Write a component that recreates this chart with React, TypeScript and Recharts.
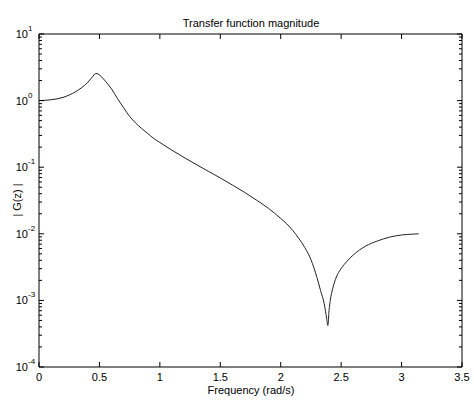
import { LineChart, Line, XAxis, YAxis } from "recharts";

const freq = [
  0, 0.1, 0.2, 0.3, 0.35, 0.4, 0.44, 0.47, 0.49, 0.52, 0.55, 0.6, 0.65, 0.7, 0.75, 0.8, 0.85, 0.9,
  0.95, 1.0, 1.1, 1.2, 1.3, 1.4, 1.5, 1.6, 1.7, 1.8, 1.9, 2.0, 2.05, 2.1, 2.15, 2.2, 2.25, 2.3,
  2.33, 2.36, 2.38, 2.39, 2.4, 2.41, 2.43, 2.46, 2.5, 2.55, 2.6, 2.7, 2.8, 2.9, 3.0, 3.1, 3.1416,
];
const magnitude = [
  1.0, 1.03, 1.12, 1.35, 1.55, 1.85, 2.25, 2.55, 2.5, 2.25, 1.95, 1.5, 1.07, 0.78, 0.58, 0.46, 0.38,
  0.32, 0.27, 0.235, 0.18, 0.14, 0.11, 0.087, 0.069, 0.054, 0.042, 0.032, 0.024, 0.017, 0.0141,
  0.0112, 0.0085, 0.0062, 0.0041, 0.0022, 0.0014, 0.00089, 0.00054, 0.00042, 0.00071, 0.001,
  0.0015, 0.00224, 0.003, 0.0039, 0.0048, 0.0065, 0.0078, 0.0089, 0.0096, 0.0099, 0.01,
];
const xTicks = [0, 0.5, 1, 1.5, 2, 2.5, 3, 3.5];
const decades = [-4, -3, -2, -1, 0, 1];

const data = freq.map((f, i) => ({ f, g: magnitude[i] }));

// major decade ticks plus 2..9 minor ticks in each decade
const yTicks: number[] = [];
decades.forEach((e) => {
  yTicks.push(Math.pow(10, e));
  if (e < 1) for (let k = 2; k <= 9; k++) yTicks.push(k * Math.pow(10, e));
});

const FONT = "'Liberation Sans', Arial, Helvetica, sans-serif";
const isMajor = (v: number) => Math.abs(Math.log10(v) - Math.round(Math.log10(v))) < 1e-9;

const LeftTick = ({ x, y, payload }: any) => {
  const v = payload.value;
  const major = isMajor(v);
  return (
    <g>
      <line x1={x} x2={x + (major ? 5 : 3)} y1={y} y2={y} stroke="#000" />
      {major && (
        <>
          <text x={x - 11} y={y + 4} textAnchor="end" fontSize={11} fontFamily={FONT} fill="#000">
            10
          </text>
          <text x={x - 11} y={y - 3} textAnchor="start" fontSize={8} fontFamily={FONT} fill="#000">
            {Math.round(Math.log10(v))}
          </text>
        </>
      )}
    </g>
  );
};

const RightTick = ({ x, y, payload }: any) => {
  const major = isMajor(payload.value);
  return <line x1={x} x2={x - (major ? 5 : 3)} y1={y} y2={y} stroke="#000" />;
};

const BottomTick = ({ x, y, payload }: any) => (
  <g>
    <line x1={x} x2={x} y1={y} y2={y - 5} stroke="#000" />
    <text x={x} y={y + 14} textAnchor="middle" fontSize={11} fontFamily={FONT} fill="#000">
      {payload.value}
    </text>
  </g>
);

const TopTick = ({ x, y }: any) => <line x1={x} x2={x} y1={y} y2={y + 5} stroke="#000" />;

const textStyle = {
  position: "absolute" as const,
  fontFamily: FONT,
  fontSize: 11,
  lineHeight: 1,
  color: "#000",
  whiteSpace: "nowrap" as const,
};

export default function App() {
  return (
    <div style={{ position: "absolute", left: 0, top: 0, width: 474, height: 413, background: "#fff" }}>
      <LineChart width={474} height={413} data={data} margin={{ top: 0, right: 0, bottom: 0, left: 0 }}>
        <XAxis
          xAxisId="b"
          dataKey="f"
          type="number"
          domain={[0, 3.5]}
          ticks={xTicks}
          interval={0}
          height={46}
          tickSize={0}
          tickMargin={0}
          tickLine={false}
          tick={<BottomTick />}
          axisLine={{ stroke: "#000" }}
        />
        <XAxis
          xAxisId="t"
          orientation="top"
          dataKey="f"
          type="number"
          domain={[0, 3.5]}
          ticks={xTicks}
          interval={0}
          height={34}
          tickSize={0}
          tickMargin={0}
          tickLine={false}
          tick={<TopTick />}
          axisLine={{ stroke: "#000" }}
        />
        <YAxis
          yAxisId="l"
          scale="log"
          type="number"
          domain={[1e-4, 10]}
          allowDataOverflow
          ticks={yTicks}
          interval={0}
          width={39}
          tickSize={0}
          tickMargin={0}
          tickLine={false}
          tick={<LeftTick />}
          axisLine={{ stroke: "#000" }}
        />
        <YAxis
          yAxisId="r"
          orientation="right"
          scale="log"
          type="number"
          domain={[1e-4, 10]}
          allowDataOverflow
          ticks={yTicks}
          interval={0}
          width={12}
          tickSize={0}
          tickMargin={0}
          tickLine={false}
          tick={<RightTick />}
          axisLine={{ stroke: "#000" }}
        />
        <Line
          xAxisId="b"
          yAxisId="l"
          dataKey="g"
          type="monotone"
          stroke="#222"
          strokeWidth={1}
          dot={false}
          isAnimationActive={false}
        />
      </LineChart>
      <div style={{ ...textStyle, left: 251, top: 18, transform: "translateX(-50%)" }}>Transfer function magnitude</div>
      <div style={{ ...textStyle, left: 251, top: 385, transform: "translateX(-50%)" }}>Frequency (rad/s)</div>
      <div style={{ ...textStyle, left: 17, top: 200, transform: "translate(-50%, -50%) rotate(-90deg)" }}>| G(z) |</div>
    </div>
  );
}
